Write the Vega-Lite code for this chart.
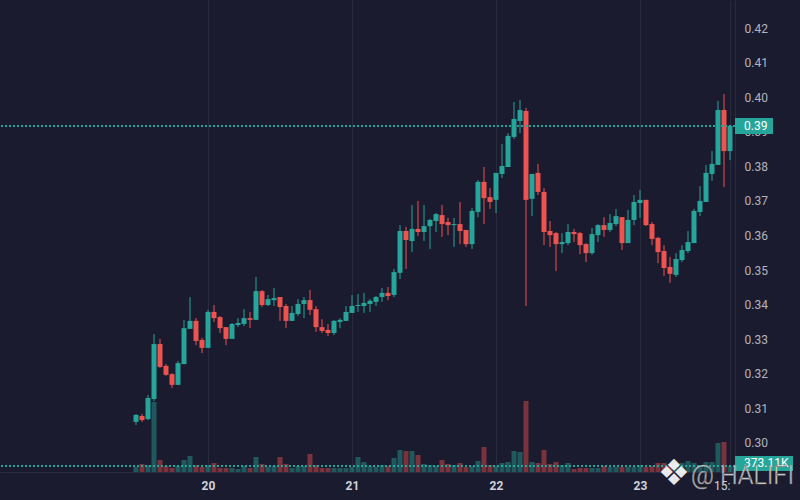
{
  "$schema": "https://vega.github.io/schema/vega-lite/v6.json",
  "width": 735,
  "height": 472,
  "autosize": {"type": "none"},
  "padding": {"left": 0, "top": 0, "right": 65, "bottom": 28},
  "background": "#1a1b2e",
  "config": {
    "view": {"stroke": null},
    "font": "Roboto",
    "axis": {"labelOverlap": false, "labelBound": false, "labelFlush": false},
    "axisY": {
      "orient": "right",
      "values": [0.30, 0.31, 0.32, 0.33, 0.34, 0.35, 0.36, 0.37, 0.38, 0.39, 0.40, 0.41, 0.42],
      "format": ".2f",
      "labelColor": "#b2b5be",
      "labelFontSize": 12,
      "labelPadding": 9,
      "ticks": false,
      "grid": true,
      "gridColor": "#2a2b3e",
      "domainColor": "#2a2b3e",
      "title": null,
      "zindex": 0
    }
  },
  "data": {
    "values": [
      {"t":"2024-03-19T12:00","o":0.3061,"h":0.3084,"l":0.3052,"c":0.3081,"v":311},
      {"t":"2024-03-19T13:00","o":0.3078,"h":0.3084,"l":0.3061,"c":0.3066,"v":498},
      {"t":"2024-03-19T14:00","o":0.3069,"h":0.3139,"l":0.3066,"c":0.3130,"v":435},
      {"t":"2024-03-19T15:00","o":0.3127,"h":0.3315,"l":0.3121,"c":0.3286,"v":4354},
      {"t":"2024-03-19T16:00","o":0.3286,"h":0.3301,"l":0.3217,"c":0.3220,"v":746},
      {"t":"2024-03-19T17:00","o":0.3223,"h":0.3228,"l":0.3194,"c":0.3197,"v":373},
      {"t":"2024-03-19T18:00","o":0.3199,"h":0.3202,"l":0.3159,"c":0.3168,"v":249},
      {"t":"2024-03-19T19:00","o":0.3168,"h":0.3237,"l":0.3168,"c":0.3231,"v":373},
      {"t":"2024-03-19T20:00","o":0.3228,"h":0.3356,"l":0.3228,"c":0.3332,"v":746},
      {"t":"2024-03-19T21:00","o":0.3330,"h":0.3422,"l":0.3330,"c":0.3353,"v":995},
      {"t":"2024-03-19T22:00","o":0.3353,"h":0.3361,"l":0.3283,"c":0.3295,"v":435},
      {"t":"2024-03-19T23:00","o":0.3298,"h":0.3304,"l":0.3260,"c":0.3275,"v":311},
      {"t":"2024-03-20T00:00","o":0.3275,"h":0.3385,"l":0.3275,"c":0.3379,"v":435},
      {"t":"2024-03-20T01:00","o":0.3379,"h":0.3399,"l":0.3350,"c":0.3361,"v":560},
      {"t":"2024-03-20T02:00","o":0.3364,"h":0.3367,"l":0.3318,"c":0.3332,"v":249},
      {"t":"2024-03-20T03:00","o":0.3335,"h":0.3335,"l":0.3283,"c":0.3301,"v":249},
      {"t":"2024-03-20T04:00","o":0.3301,"h":0.3347,"l":0.3301,"c":0.3344,"v":249},
      {"t":"2024-03-20T05:00","o":0.3341,"h":0.3361,"l":0.3335,"c":0.3347,"v":187},
      {"t":"2024-03-20T06:00","o":0.3344,"h":0.3387,"l":0.3338,"c":0.3361,"v":373},
      {"t":"2024-03-20T07:00","o":0.3361,"h":0.3379,"l":0.3332,"c":0.3356,"v":249},
      {"t":"2024-03-20T08:00","o":0.3356,"h":0.3480,"l":0.3356,"c":0.3439,"v":933},
      {"t":"2024-03-20T09:00","o":0.3439,"h":0.3442,"l":0.3393,"c":0.3399,"v":498},
      {"t":"2024-03-20T10:00","o":0.3399,"h":0.3428,"l":0.3396,"c":0.3416,"v":311},
      {"t":"2024-03-20T11:00","o":0.3413,"h":0.3448,"l":0.3396,"c":0.3419,"v":373},
      {"t":"2024-03-20T12:00","o":0.3422,"h":0.3422,"l":0.3353,"c":0.3393,"v":933},
      {"t":"2024-03-20T13:00","o":0.3396,"h":0.3402,"l":0.3332,"c":0.3353,"v":498},
      {"t":"2024-03-20T14:00","o":0.3353,"h":0.3396,"l":0.3353,"c":0.3376,"v":249},
      {"t":"2024-03-20T15:00","o":0.3373,"h":0.3416,"l":0.3367,"c":0.3402,"v":373},
      {"t":"2024-03-20T16:00","o":0.3402,"h":0.3422,"l":0.3361,"c":0.3413,"v":373},
      {"t":"2024-03-20T17:00","o":0.3413,"h":0.3442,"l":0.3370,"c":0.3385,"v":1120},
      {"t":"2024-03-20T18:00","o":0.3387,"h":0.3396,"l":0.3321,"c":0.3335,"v":435},
      {"t":"2024-03-20T19:00","o":0.3335,"h":0.3358,"l":0.3318,"c":0.3324,"v":249},
      {"t":"2024-03-20T20:00","o":0.3327,"h":0.3344,"l":0.3309,"c":0.3318,"v":249},
      {"t":"2024-03-20T21:00","o":0.3318,"h":0.3356,"l":0.3312,"c":0.3353,"v":249},
      {"t":"2024-03-20T22:00","o":0.3350,"h":0.3361,"l":0.3332,"c":0.3356,"v":249},
      {"t":"2024-03-20T23:00","o":0.3353,"h":0.3396,"l":0.3353,"c":0.3379,"v":249},
      {"t":"2024-03-21T00:00","o":0.3376,"h":0.3428,"l":0.3376,"c":0.3396,"v":311},
      {"t":"2024-03-21T01:00","o":0.3396,"h":0.3431,"l":0.3379,"c":0.3399,"v":933},
      {"t":"2024-03-21T02:00","o":0.3396,"h":0.3434,"l":0.3376,"c":0.3405,"v":622},
      {"t":"2024-03-21T03:00","o":0.3402,"h":0.3416,"l":0.3379,"c":0.3411,"v":373},
      {"t":"2024-03-21T04:00","o":0.3408,"h":0.3425,"l":0.3396,"c":0.3422,"v":311},
      {"t":"2024-03-21T05:00","o":0.3422,"h":0.3448,"l":0.3408,"c":0.3434,"v":435},
      {"t":"2024-03-21T06:00","o":0.3434,"h":0.3451,"l":0.3413,"c":0.3425,"v":373},
      {"t":"2024-03-21T07:00","o":0.3428,"h":0.3503,"l":0.3422,"c":0.3494,"v":871},
      {"t":"2024-03-21T08:00","o":0.3492,"h":0.3630,"l":0.3474,"c":0.3613,"v":1368},
      {"t":"2024-03-21T09:00","o":0.3613,"h":0.3625,"l":0.3503,"c":0.3587,"v":1306},
      {"t":"2024-03-21T10:00","o":0.3584,"h":0.3688,"l":0.3552,"c":0.3619,"v":1306},
      {"t":"2024-03-21T11:00","o":0.3619,"h":0.3700,"l":0.3599,"c":0.3610,"v":1057},
      {"t":"2024-03-21T12:00","o":0.3610,"h":0.3688,"l":0.3584,"c":0.3627,"v":498},
      {"t":"2024-03-21T13:00","o":0.3627,"h":0.3648,"l":0.3561,"c":0.3645,"v":435},
      {"t":"2024-03-21T14:00","o":0.3642,"h":0.3665,"l":0.3610,"c":0.3662,"v":373},
      {"t":"2024-03-21T15:00","o":0.3659,"h":0.3688,"l":0.3596,"c":0.3633,"v":746},
      {"t":"2024-03-21T16:00","o":0.3639,"h":0.3651,"l":0.3601,"c":0.3630,"v":498},
      {"t":"2024-03-21T17:00","o":0.3630,"h":0.3651,"l":0.3567,"c":0.3633,"v":435},
      {"t":"2024-03-21T18:00","o":0.3633,"h":0.3697,"l":0.3575,"c":0.3613,"v":560},
      {"t":"2024-03-21T19:00","o":0.3616,"h":0.3616,"l":0.3567,"c":0.3575,"v":311},
      {"t":"2024-03-21T20:00","o":0.3575,"h":0.3679,"l":0.3561,"c":0.3671,"v":373},
      {"t":"2024-03-21T21:00","o":0.3668,"h":0.3760,"l":0.3653,"c":0.3755,"v":684},
      {"t":"2024-03-21T22:00","o":0.3755,"h":0.3798,"l":0.3633,"c":0.3708,"v":1555},
      {"t":"2024-03-21T23:00","o":0.3711,"h":0.3737,"l":0.3677,"c":0.3697,"v":435},
      {"t":"2024-03-22T00:00","o":0.3703,"h":0.3781,"l":0.3665,"c":0.3781,"v":373},
      {"t":"2024-03-22T01:00","o":0.3778,"h":0.3865,"l":0.3766,"c":0.3801,"v":560},
      {"t":"2024-03-22T02:00","o":0.3798,"h":0.3896,"l":0.3798,"c":0.3888,"v":622},
      {"t":"2024-03-22T03:00","o":0.3885,"h":0.3986,"l":0.3879,"c":0.3937,"v":1306},
      {"t":"2024-03-22T04:00","o":0.3931,"h":0.3992,"l":0.3896,"c":0.3963,"v":1244},
      {"t":"2024-03-22T05:00","o":0.3960,"h":0.3969,"l":0.3396,"c":0.3703,"v":4416},
      {"t":"2024-03-22T06:00","o":0.3706,"h":0.3778,"l":0.3656,"c":0.3778,"v":622},
      {"t":"2024-03-22T07:00","o":0.3781,"h":0.3807,"l":0.3717,"c":0.3726,"v":560},
      {"t":"2024-03-22T08:00","o":0.3726,"h":0.3737,"l":0.3572,"c":0.3610,"v":1368},
      {"t":"2024-03-22T09:00","o":0.3613,"h":0.3642,"l":0.3567,"c":0.3601,"v":498},
      {"t":"2024-03-22T10:00","o":0.3607,"h":0.3610,"l":0.3497,"c":0.3575,"v":622},
      {"t":"2024-03-22T11:00","o":0.3575,"h":0.3607,"l":0.3549,"c":0.3581,"v":435},
      {"t":"2024-03-22T12:00","o":0.3578,"h":0.3633,"l":0.3572,"c":0.3610,"v":560},
      {"t":"2024-03-22T13:00","o":0.3610,"h":0.3619,"l":0.3581,"c":0.3604,"v":187},
      {"t":"2024-03-22T14:00","o":0.3607,"h":0.3610,"l":0.3546,"c":0.3572,"v":249},
      {"t":"2024-03-22T15:00","o":0.3575,"h":0.3578,"l":0.3523,"c":0.3549,"v":249},
      {"t":"2024-03-22T16:00","o":0.3549,"h":0.3622,"l":0.3544,"c":0.3604,"v":249},
      {"t":"2024-03-22T17:00","o":0.3601,"h":0.3633,"l":0.3581,"c":0.3630,"v":249},
      {"t":"2024-03-22T18:00","o":0.3630,"h":0.3653,"l":0.3596,"c":0.3616,"v":373},
      {"t":"2024-03-22T19:00","o":0.3616,"h":0.3662,"l":0.3610,"c":0.3636,"v":311},
      {"t":"2024-03-22T20:00","o":0.3633,"h":0.3677,"l":0.3627,"c":0.3656,"v":311},
      {"t":"2024-03-22T21:00","o":0.3653,"h":0.3653,"l":0.3558,"c":0.3578,"v":311},
      {"t":"2024-03-22T22:00","o":0.3578,"h":0.3674,"l":0.3578,"c":0.3645,"v":311},
      {"t":"2024-03-22T23:00","o":0.3645,"h":0.3717,"l":0.3630,"c":0.3697,"v":311},
      {"t":"2024-03-23T00:00","o":0.3694,"h":0.3732,"l":0.3651,"c":0.3703,"v":435},
      {"t":"2024-03-23T01:00","o":0.3703,"h":0.3703,"l":0.3627,"c":0.3630,"v":311},
      {"t":"2024-03-23T02:00","o":0.3633,"h":0.3639,"l":0.3572,"c":0.3590,"v":373},
      {"t":"2024-03-23T03:00","o":0.3593,"h":0.3596,"l":0.3520,"c":0.3552,"v":560},
      {"t":"2024-03-23T04:00","o":0.3555,"h":0.3572,"l":0.3483,"c":0.3506,"v":560},
      {"t":"2024-03-23T05:00","o":0.3509,"h":0.3538,"l":0.3463,"c":0.3489,"v":498},
      {"t":"2024-03-23T06:00","o":0.3486,"h":0.3549,"l":0.3480,"c":0.3532,"v":498},
      {"t":"2024-03-23T07:00","o":0.3529,"h":0.3572,"l":0.3523,"c":0.3558,"v":560},
      {"t":"2024-03-23T08:00","o":0.3555,"h":0.3613,"l":0.3549,"c":0.3581,"v":684},
      {"t":"2024-03-23T09:00","o":0.3578,"h":0.3677,"l":0.3578,"c":0.3671,"v":560},
      {"t":"2024-03-23T10:00","o":0.3668,"h":0.3743,"l":0.3656,"c":0.3700,"v":373},
      {"t":"2024-03-23T11:00","o":0.3697,"h":0.3804,"l":0.3697,"c":0.3781,"v":622},
      {"t":"2024-03-23T12:00","o":0.3778,"h":0.3844,"l":0.3758,"c":0.3807,"v":622},
      {"t":"2024-03-23T13:00","o":0.3804,"h":0.3989,"l":0.3804,"c":0.3963,"v":1804},
      {"t":"2024-03-23T14:00","o":0.3963,"h":0.4009,"l":0.3740,"c":0.3844,"v":1866},
      {"t":"2024-03-23T15:00","o":0.3844,"h":0.3920,"l":0.3818,"c":0.3917,"v":373.11}
    ]
  },
  "layer": [
    {
      "layer": [
        {
          "mark": {"type": "bar", "size": 5, "opacity": 0.45},
          "encoding": {
            "x": {
              "field": "t", "type": "temporal", "title": null,
              "scale": {"domain": [
                {"year": 2024, "month": 3, "date": 18, "hours": 13, "minutes": 20},
                {"year": 2024, "month": 3, "date": 23, "hours": 15, "minutes": 50}
              ], "padding": 0},
              "axis": {
                "values": [
                  {"year": 2024, "month": 3, "date": 20},
                  {"year": 2024, "month": 3, "date": 21},
                  {"year": 2024, "month": 3, "date": 22},
                  {"year": 2024, "month": 3, "date": 23},
                  {"year": 2024, "month": 3, "date": 23, "hours": 15}
                ],
                "labelExpr": "hours(datum.value) == 15 ? '15:' : timeFormat(datum.value, '%d')",
                "labelAlign": {"condition": {"test": "hours(datum.value) == 15", "value": "right"}, "value": "center"},
                "labelFontWeight": {"condition": {"test": "hours(datum.value) == 0", "value": "bold"}, "value": "normal"},
                "labelColor": "#d1d4dc",
                "labelFontSize": 12,
                "labelPadding": 8,
                "ticks": false,
                "grid": true,
                "gridColor": "#2a2b3e",
                "domainColor": "#2a2b3e",
                "zindex": 0
              }
            },
            "y": {"field": "v", "type": "quantitative", "scale": {"domain": [0, 29358], "nice": false}, "axis": null},
            "color": {"condition": {"test": "datum.c >= datum.o", "value": "#26a69a"}, "value": "#ef5350"}
          }
        },
        {
          "mark": {"type": "rule", "strokeDash": [2, 2], "color": "#26a69a", "opacity": 0.6},
          "encoding": {
            "y": {"datum": 373.11, "type": "quantitative", "scale": {"domain": [0, 29358], "nice": false}, "axis": null}
          }
        }
      ]
    },
    {
      "layer": [
        {
          "mark": {"type": "rule", "strokeWidth": 1},
          "encoding": {
            "x": {"field": "t", "type": "temporal", "title": null},
            "y": {"field": "l", "type": "quantitative", "title": null, "scale": {"domain": [0.2916, 0.4281], "nice": false, "zero": false}},
            "y2": {"field": "h"},
            "color": {"condition": {"test": "datum.c >= datum.o", "value": "#26a69a"}, "value": "#ef5350"}
          }
        },
        {
          "mark": {"type": "bar", "size": 5},
          "encoding": {
            "x": {"field": "t", "type": "temporal"},
            "y": {"field": "o", "type": "quantitative", "title": null, "scale": {"domain": [0.2916, 0.4281], "nice": false, "zero": false}},
            "y2": {"field": "c"},
            "color": {"condition": {"test": "datum.c >= datum.o", "value": "#26a69a"}, "value": "#ef5350"}
          }
        },
        {
          "mark": {"type": "rule", "strokeDash": [2, 2], "color": "#26a69a"},
          "encoding": {
            "y": {"datum": 0.3917, "type": "quantitative", "title": null, "scale": {"domain": [0.2916, 0.4281], "nice": false, "zero": false}}
          }
        },
        {
          "data": {"values": [{}]},
          "mark": {"type": "rect", "color": "#26a69a"},
          "encoding": {
            "x": {"datum": {"year": 2024, "month": 3, "date": 23, "hours": 15, "minutes": 50}, "type": "temporal"},
            "x2": {"datum": {"year": 2024, "month": 3, "date": 23, "hours": 22, "minutes": 10}},
            "y": {"datum": 0.39397, "type": "quantitative", "title": null, "scale": {"domain": [0.2916, 0.4281], "nice": false, "zero": false}},
            "y2": {"datum": 0.38935}
          }
        },
        {
          "data": {"values": [{}]},
          "mark": {"type": "rect", "color": "#26a69a"},
          "encoding": {
            "x": {"datum": {"year": 2024, "month": 3, "date": 23, "hours": 15, "minutes": 50}, "type": "temporal"},
            "x2": {"datum": {"year": 2024, "month": 3, "date": 24, "hours": 1, "minutes": 30}},
            "y": {"datum": 0.29624, "type": "quantitative", "title": null, "scale": {"domain": [0.2916, 0.4281], "nice": false, "zero": false}},
            "y2": {"datum": 0.29189}
          }
        },
        {
          "data": {"values": [{"label": "0.39", "p": 0.3917}, {"label": "373.11K", "p": 0.29407}]},
          "mark": {"type": "text", "align": "left", "baseline": "middle", "color": "#ffffff", "fontSize": 12},
          "encoding": {
            "x": {"datum": {"year": 2024, "month": 3, "date": 23, "hours": 17, "minutes": 20}, "type": "temporal"},
            "y": {"field": "p", "type": "quantitative", "title": null, "scale": {"domain": [0.2916, 0.4281], "nice": false, "zero": false}},
            "text": {"field": "label"}
          }
        },
        {
          "data": {"values": [{"label": "❖"}]},
          "mark": {"type": "text", "align": "center", "baseline": "middle", "color": "#ffffff", "fontSize": 36, "font": "DejaVu Sans", "opacity": 0.9},
          "encoding": {
            "x": {"datum": {"year": 2024, "month": 3, "date": 23, "hours": 5, "minutes": 40}, "type": "temporal"},
            "y": {"datum": 0.29103, "type": "quantitative", "title": null, "scale": {"domain": [0.2916, 0.4281], "nice": false, "zero": false}},
            "text": {"field": "label"}
          }
        },
        {
          "data": {"values": [{"label": "@ HALIFI"}]},
          "mark": {"type": "text", "align": "left", "baseline": "middle", "color": "#ffffff", "fontSize": 25, "fontWeight": 300, "opacity": 0.9, "stroke": "#777777", "strokeWidth": 0.6},
          "encoding": {
            "x": {"datum": {"year": 2024, "month": 3, "date": 23, "hours": 8, "minutes": 30}, "type": "temporal"},
            "y": {"datum": 0.29045, "type": "quantitative", "title": null, "scale": {"domain": [0.2916, 0.4281], "nice": false, "zero": false}},
            "text": {"field": "label"}
          }
        }
      ]
    }
  ],
  "resolve": {"scale": {"y": "independent"}}
}
